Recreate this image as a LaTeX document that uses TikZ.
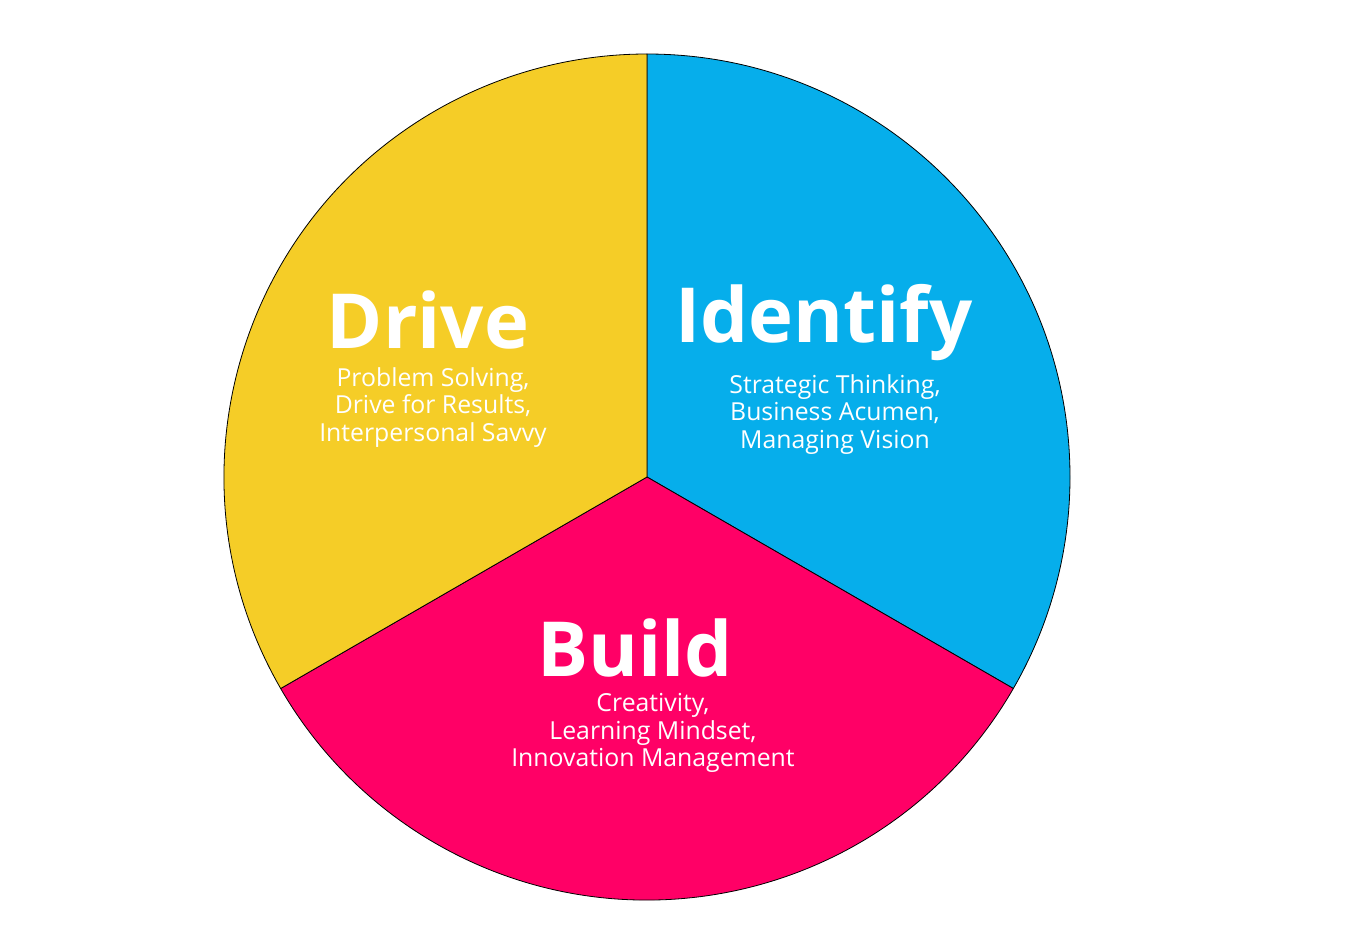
\documentclass[tikz,border=0pt]{standalone}
\usepackage{fontspec}
\setmainfont{Open Sans}
\definecolor{cy}{HTML}{F5CD27}
\definecolor{cb}{HTML}{06AEEB}
\definecolor{cp}{HTML}{FF0066}
\begin{document}
\begin{tikzpicture}[x=1pt,y=-1pt,
  title/.style={text=white,font=\fontsize{76}{80}\selectfont\bfseries,anchor=center},
  sub/.style={text=white,font=\fontsize{24.8}{27.5}\selectfont,align=center,anchor=north},
  seg/.style={draw=black,line width=0.8pt,line join=round}]
\useasboundingbox (0,0) rectangle (1358,945);
\coordinate (c) at (647,477);
\def\R{423}
\filldraw[seg,fill=cb] (c) -- ++(-90:\R) arc[start angle=-90,end angle=30,radius=\R] -- cycle;
\filldraw[seg,fill=cp] (c) -- ++(30:\R) arc[start angle=30,end angle=150,radius=\R] -- cycle;
\filldraw[seg,fill=cy] (c) -- ++(150:\R) arc[start angle=150,end angle=270,radius=\R] -- cycle;
\node[title] (t1) at (428,320) {Drive};
\node[sub] (s1) at (433,364) {Problem Solving,\\Drive for Results,\\Interpersonal Savvy};
\node[title] (t2) at (824,323) {Identify};
\node[sub] (s2) at (835,371) {Strategic Thinking,\\Business Acumen,\\Managing Vision};
\node[title] (t3) at (635,648) {Build};
\node[sub] (s3) at (653,690) {Creativity,\\Learning Mindset,\\Innovation Management};
\end{tikzpicture}
\end{document}
